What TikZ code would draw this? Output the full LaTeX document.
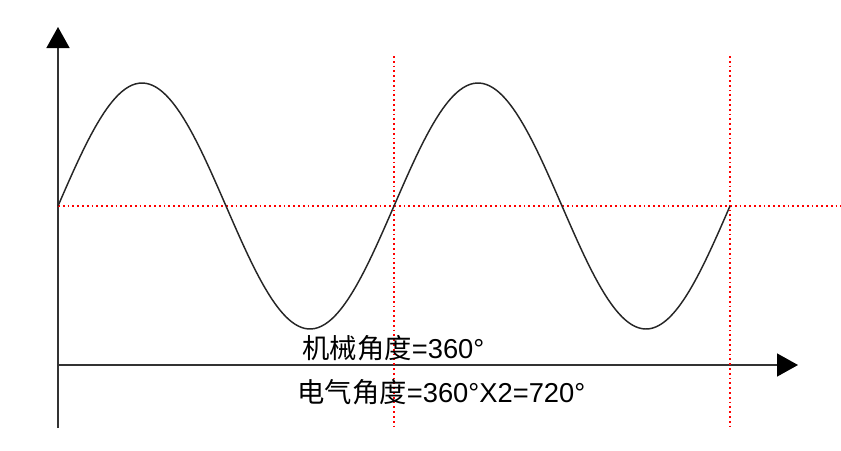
\documentclass[tikz,border=0pt]{standalone}
\usepackage{fontspec}
\setmainfont{Liberation Sans}
\newfontfamily\cjk{Noto Sans CJK SC}
\usetikzlibrary{arrows.meta}
\tikzset{
	axis/.style={line width=1.1pt,draw=black!80,-{Triangle[length=15.75pt,width=17.25pt,black]}},
	guide/.style={red,line width=1.1pt,dash pattern=on 1.4pt off 2.2pt},
	label/.style={anchor=west,inner sep=0pt,font=\fontsize{20.5}{22}\selectfont}
}
\begin{document}
\begin{tikzpicture}[x=.75pt,y=-.75pt,thick]
	\useasboundingbox (0,0) rectangle (841,450);
	\coordinate (O) at (58,365);
	\coordinate (Ybot) at (58,428);
	\coordinate (Ytop) at (58,27);
	\coordinate (Xend) at (798,365);
	\coordinate (Zero) at (58,206);
	\coordinate (Hend) at (841,206);
	\draw[axis] (Ybot)--(Ytop);
	\draw[axis] (O)--(Xend);
	\draw[guide] (Zero)--(Hend);
	\foreach \x in {394,730}
	\draw[guide] (\x,56)--(\x,428);
	% duong sin, 2 chu ky (goc dien 0..720)
	\draw[line width=1.1pt,black!85,smooth,samples=200,domain=0:720]
	plot ({58+\x/360*336},{206-123*sin(\x)});
	\path
	(302,348) node[label] (mech) {{\cjk 机械角度}=360°}
	(297,392) node[label] (elec) {{\cjk 电气角度}=360°X2=720°}
	;
\end{tikzpicture}
\end{document}
